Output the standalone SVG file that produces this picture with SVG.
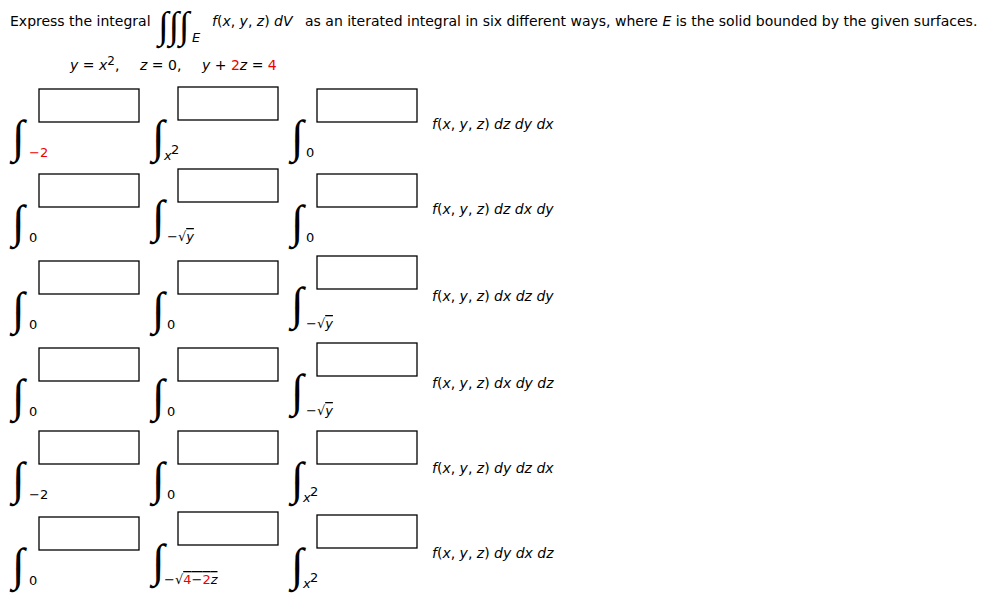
<svg xmlns="http://www.w3.org/2000/svg" width="990" height="604" viewBox="0 0 990 604">
<style>
text{font-family:"DejaVu Sans","Verdana",sans-serif;font-size:14px;fill:#000}
.i{font-style:italic}
.r{fill:#e00}
.box{fill:#fff;stroke:#000;stroke-width:1.3}
.int{font-family:"Liberation Serif",serif;font-size:46px}
.l{font-size:13px}
</style>
<rect width="990" height="604" fill="#fff"/>
<g id="header">
<text x="10" y="26">Express the integral</text>
<text class="int" x="158" y="38" style="font-size:38px">∫∫∫</text>
<text class="i l" x="192" y="42">E</text>
<text x="212" y="26"><tspan class="i">f</tspan>(<tspan class="i">x</tspan>, <tspan class="i">y</tspan>, <tspan class="i">z</tspan>) <tspan class="i">dV</tspan></text>
<text x="305" y="26">as an iterated integral in six different ways, where <tspan class="i">E</tspan> is the solid bounded by the given surfaces.</text>
<text x="70" y="70"><tspan class="i">y</tspan> = <tspan class="i">x</tspan><tspan dy="-5" font-size="12">2</tspan><tspan dy="5">,</tspan></text>
<text x="140" y="70"><tspan class="i">z</tspan> = 0,</text>
<text x="202" y="70"><tspan class="i">y</tspan> + <tspan class="r">2</tspan><tspan class="i">z</tspan> = <tspan class="r">4</tspan></text>
</g>
<g id="row1">
<rect class="box" x="39" y="89" width="100" height="33"/><rect class="box" x="178" y="87" width="100" height="33"/><rect class="box" x="317" y="89" width="100" height="33"/>
<text class="int" x="12" y="152">∫</text><text class="l r" x="29" y="157">−2</text>
<text class="int" x="152" y="152">∫</text><text class="l i" x="164" y="160">x</text><text class="l" x="171" y="154">2</text>
<text class="int" x="291" y="152">∫</text><text class="l" x="306" y="157">0</text>
<text x="432" y="129"><tspan class="i">f</tspan>(<tspan class="i">x</tspan>, <tspan class="i">y</tspan>, <tspan class="i">z</tspan>) <tspan class="i">dz dy dx</tspan></text>
</g>
<g id="row2">
<rect class="box" x="39" y="174" width="100" height="33"/><rect class="box" x="178" y="169" width="100" height="33"/><rect class="box" x="317" y="174" width="100" height="33"/>
<text class="int" x="12" y="237">∫</text><text class="l" x="29" y="242">0</text>
<text class="int" x="152" y="232">∫</text><text class="l" x="167" y="241">−√<tspan class="i" text-decoration="overline">y</tspan></text>
<text class="int" x="291" y="237">∫</text><text class="l" x="306" y="242">0</text>
<text x="432" y="214"><tspan class="i">f</tspan>(<tspan class="i">x</tspan>, <tspan class="i">y</tspan>, <tspan class="i">z</tspan>) <tspan class="i">dz dx dy</tspan></text>
</g>
<g id="row3">
<rect class="box" x="39" y="261" width="100" height="33"/><rect class="box" x="178" y="261" width="100" height="33"/><rect class="box" x="317" y="256" width="100" height="33"/>
<text class="int" x="12" y="324">∫</text><text class="l" x="29" y="329">0</text>
<text class="int" x="152" y="324">∫</text><text class="l" x="167" y="329">0</text>
<text class="int" x="291" y="319">∫</text><text class="l" x="306" y="328">−√<tspan class="i" text-decoration="overline">y</tspan></text>
<text x="432" y="301"><tspan class="i">f</tspan>(<tspan class="i">x</tspan>, <tspan class="i">y</tspan>, <tspan class="i">z</tspan>) <tspan class="i">dx dz dy</tspan></text>
</g>
<g id="row4">
<rect class="box" x="39" y="348" width="100" height="33"/><rect class="box" x="178" y="348" width="100" height="33"/><rect class="box" x="317" y="343" width="100" height="33"/>
<text class="int" x="12" y="411">∫</text><text class="l" x="29" y="416">0</text>
<text class="int" x="152" y="411">∫</text><text class="l" x="167" y="416">0</text>
<text class="int" x="291" y="406">∫</text><text class="l" x="306" y="415">−√<tspan class="i" text-decoration="overline">y</tspan></text>
<text x="432" y="388"><tspan class="i">f</tspan>(<tspan class="i">x</tspan>, <tspan class="i">y</tspan>, <tspan class="i">z</tspan>) <tspan class="i">dx dy dz</tspan></text>
</g>
<g id="row5">
<rect class="box" x="39" y="431" width="100" height="33"/><rect class="box" x="178" y="431" width="100" height="33"/><rect class="box" x="317" y="431" width="100" height="33"/>
<text class="int" x="12" y="494">∫</text><text class="l" x="29" y="499">−2</text>
<text class="int" x="152" y="494">∫</text><text class="l" x="167" y="499">0</text>
<text class="int" x="291" y="494">∫</text><text class="l i" x="303" y="502">x</text><text class="l" x="310" y="496">2</text>
<text x="432" y="473"><tspan class="i">f</tspan>(<tspan class="i">x</tspan>, <tspan class="i">y</tspan>, <tspan class="i">z</tspan>) <tspan class="i">dy dz dx</tspan></text>
</g>
<g id="row6">
<rect class="box" x="39" y="517" width="100" height="33"/><rect class="box" x="178" y="512" width="100" height="33"/><rect class="box" x="317" y="515" width="100" height="33"/>
<text class="int" x="12" y="580">∫</text><text class="l" x="29" y="585">0</text>
<text class="int" x="152" y="576">∫</text><text class="l" x="164" y="584">−√<tspan text-decoration="overline"><tspan class="r">4</tspan>−<tspan class="r">2</tspan><tspan class="i">z</tspan></tspan></text>
<text class="int" x="291" y="580">∫</text><text class="l i" x="303" y="588">x</text><text class="l" x="310" y="582">2</text>
<text x="432" y="558"><tspan class="i">f</tspan>(<tspan class="i">x</tspan>, <tspan class="i">y</tspan>, <tspan class="i">z</tspan>) <tspan class="i">dy dx dz</tspan></text>
</g>
</svg>
